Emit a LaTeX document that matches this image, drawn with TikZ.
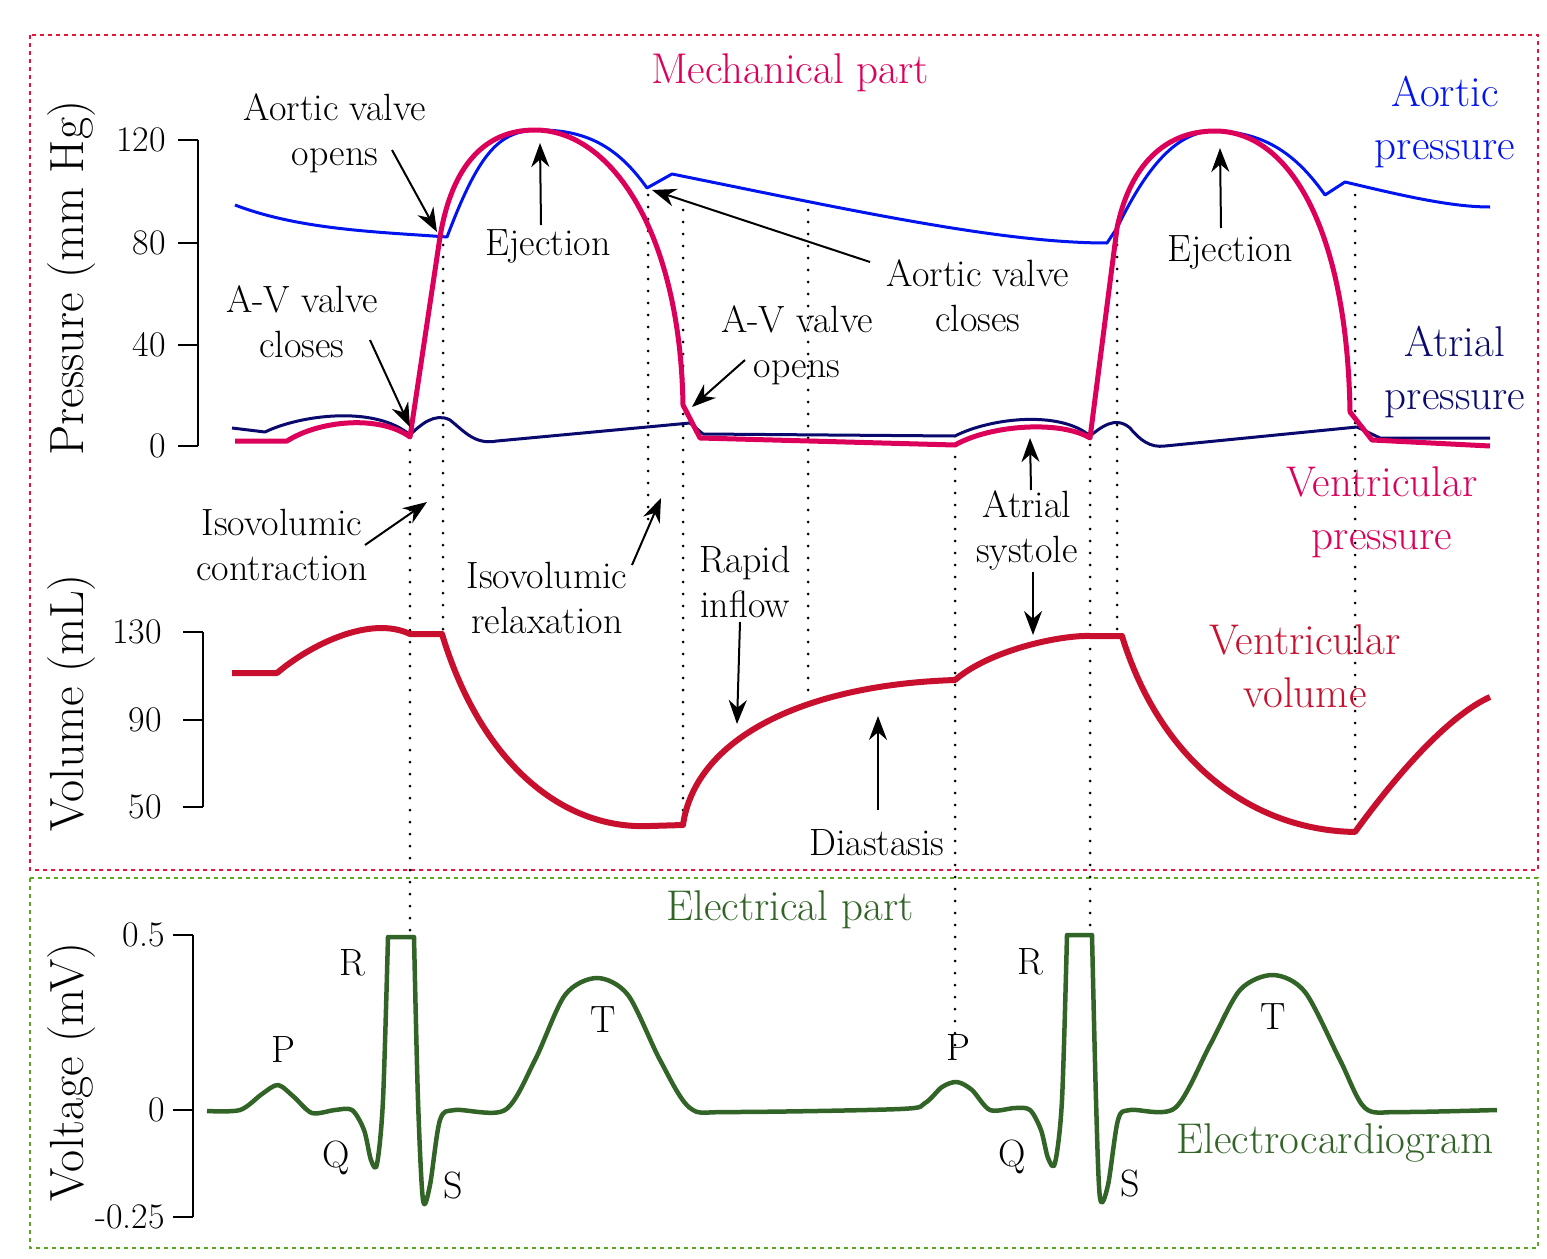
\documentclass[tikz,border=0pt]{standalone}
\usetikzlibrary{arrows.meta}
\definecolor{aorb}{RGB}{0,20,240}
\definecolor{atrb}{RGB}{10,10,110}
\definecolor{vmag}{RGB}{220,0,90}
\definecolor{vcrim}{RGB}{200,16,46}
\definecolor{ecg}{RGB}{50,100,40}
\definecolor{boxr}{RGB}{230,20,60}
\definecolor{boxg}{RGB}{90,170,30}
\begin{document}
\begin{tikzpicture}[x=1pt,y=-1pt,
  lbl/.style={font=\fontsize{38}{45}\selectfont, align=center, inner sep=0},
  ttl/.style={font=\fontsize{43}{53}\selectfont, align=center, inner sep=0},
  num/.style={font=\fontsize{36}{40}\selectfont, anchor=east, inner sep=0},
  axt/.style={font=\fontsize{48}{52}\selectfont, rotate=90, inner sep=0},
  arr/.style={-{Stealth[length=24pt,width=18pt]}, line width=2pt},
  vdot/.style={line width=3pt, line cap=round, dash pattern=on 0pt off 12pt},
  ax/.style={line width=2pt}]
\useasboundingbox (0,0) rectangle (1547,1258);
\fill[white] (0,0) rectangle (1547,1258);
% boxes
\draw[boxr, line width=2pt, dash pattern=on 4pt off 4pt] (30,35) rectangle (1538,870);
\draw[boxg, line width=2pt, dash pattern=on 4pt off 4pt] (30,878) rectangle (1538,1248);
% dotted verticals
\draw[vdot] (410,450) -- (410,930);
\draw[vdot] (443,245) -- (443,635);
\draw[vdot] (648,195) -- (648,520);
\draw[vdot] (683,210) -- (683,820);
\draw[vdot] (808,210) -- (808,690);
\draw[vdot] (955,445) -- (955,1050);
\draw[vdot] (1090,445) -- (1090,930);
\draw[vdot] (1117,245) -- (1117,640);
\draw[vdot] (1355,195) -- (1355,830);
% axes
\draw[ax] (198,140) -- (198,446);
\foreach \y/\t in {140/120,243/80,345/40,446/0}{\draw[ax] (178,\y) -- (198,\y); \node[num] at (166,\y) {\t};}
\draw[ax] (203,632) -- (203,807);
\foreach \y/\t in {632/130,720/90,807/50}{\draw[ax] (183,\y) -- (203,\y); \node[num] at (162,\y) {\t};}
\draw[ax] (193,935) -- (193,1217);
\foreach \y/\t in {935/0.5,1110/0,1217/-0.25}{\draw[ax] (173,\y) -- (193,\y); \node[num] at (165,\y) {\t};}
\node[axt] (pt) at (72,278) {Pressure (mm Hg)};
\node[axt] (vt) at (72,703) {Volume (mL)};
\node[axt] (et) at (72,1072) {Voltage (mV)};
% atrial pressure
\draw[atrb, line width=3pt, line join=round] (232,428) -- (265,432) .. controls (300,415) and (375,405) .. (410,435)
  .. controls (420,425) and (435,412) .. (450,420) .. controls (465,432) and (475,445) .. (497,441)
  -- (690,423) -- (703,434) -- (955,436) .. controls (990,418) and (1060,410) .. (1090,436)
  .. controls (1100,428) and (1115,415) .. (1130,428) .. controls (1140,440) and (1150,448) .. (1165,446)
  -- (1357,427) -- (1380,438) -- (1490,438);
% aortic pressure
\draw[aorb, line width=3pt, line join=round] (235,205) .. controls (300,230) and (380,232) .. (447,237)
  .. controls (480,150) and (500,130) .. (540,130) .. controls (590,130) and (620,150) .. (647,188)
  -- (672,174) .. controls (850,210) and (1000,243) .. (1107,243) -- (1117,228)
  .. controls (1150,160) and (1180,131) .. (1215,131) .. controls (1270,132) and (1300,160) .. (1325,195)
  -- (1345,182) .. controls (1400,195) and (1450,207) .. (1490,207);
% ventricular pressure
\draw[vmag, line width=5pt, line join=round] (235,441) -- (287,441) .. controls (320,420) and (380,415) .. (410,437)
  -- (440,237) .. controls (452,165) and (485,130) .. (535,130) .. controls (610,130) and (680,230) .. (683,405)
  -- (700,438) -- (955,445) .. controls (990,425) and (1060,420) .. (1090,438)
  -- (1117,228) .. controls (1130,165) and (1165,131) .. (1215,131) .. controls (1290,131) and (1347,230) .. (1350,412)
  -- (1372,440) -- (1490,446);
% ventricular volume
\draw[vcrim, line width=6pt, line join=round] (232,673) -- (277,673) .. controls (310,645) and (370,615) .. (410,634)
  -- (442,634) .. controls (480,760) and (560,830) .. (650,826) -- (683,825)
  .. controls (695,740) and (800,685) .. (955,680) .. controls (990,650) and (1060,635) .. (1090,636)
  -- (1122,636) .. controls (1160,760) and (1250,830) .. (1355,832) .. controls (1400,770) and (1450,715) .. (1490,697);
% ECG
\begin{scope}[ecg, line width=4.5pt, line join=round]
\draw plot[smooth, tension=0.5] coordinates {(207,1111)(240,1110)(262,1094)(278,1085)(294,1097)(312,1113)(335,1110)(352,1110)(364,1130)(371,1160)(377,1164)(383,1100)(388,937)}
  -- (414,937) -- plot[smooth, tension=0.5] coordinates {(414,937)(418,1100)(423,1200)(430,1185)(440,1120)(455,1110)(505,1110)(535,1060)(565,995)(597,978)(628,995)(660,1060)(690,1108)(730,1112)(900,1109)(925,1103)(942,1087)(957,1082)(972,1090)(990,1110)(1015,1108)(1030,1110)(1041,1130)(1048,1158)(1055,1163)(1062,1100)(1067,935)}
  -- (1092,935) -- plot[smooth, tension=0.5] coordinates {(1092,935)(1096,1100)(1100,1198)(1108,1185)(1118,1120)(1130,1110)(1175,1108)(1210,1045)(1240,990)(1273,975)(1305,992)(1340,1060)(1365,1108)(1400,1112)(1497,1110)};
\end{scope}
% titles
\node[ttl, text=vmag] (mech) at (790,73) {Mechanical part};
\node[ttl, text=aorb] (aop) at (1445,122) {Aortic\\pressure};
\node[ttl, text=atrb] (atp) at (1455,372) {Atrial\\pressure};
\node[ttl, text=vmag] (vpp) at (1382,512) {Ventricular\\pressure};
\node[ttl, text=vcrim] (vvl) at (1305,666) {Ventricular\\volume};
\node[ttl, text=ecg] (elp) at (790,910) {Electrical part};
\node[ttl, text=ecg] (ecgl) at (1335,1143) {Electrocardiogram};
% labels and arrows
\node[lbl] (avo) at (335,133) {Aortic valve\\opens};
\coordinate (avoT) at (437,232); \draw[arr] (392,150) -- (avoT);
\node[lbl] (ej1) at (548,246) {Ejection};
\coordinate (ej1T) at (540,143); \draw[arr] (541,225) -- (ej1T);
\node[lbl] (avc) at (978,296) {Aortic valve\\closes};
\coordinate (avcT) at (652,190); \draw[arr] (870,262) -- (avcT);
\node[lbl] (avvc) at (302,322) {A-V valve\\closes};
\coordinate (avvcT) at (410,427); \draw[arr] (370,340) -- (avvcT);
\node[lbl] (avvo) at (797,345) {A-V valve\\opens};
\coordinate (avvoT) at (692,407); \draw[arr] (745,360) -- (avvoT);
\node[lbl] (ivc) at (282,545) {Isovolumic\\contraction};
\coordinate (ivcT) at (427,502); \draw[arr] (365,545) -- (ivcT);
\node[lbl] (ivr) at (547,598) {Isovolumic\\relaxation};
\coordinate (ivrT) at (661,498); \draw[arr] (632,565) -- (ivrT);
\node[lbl] (rif) at (745,582) {Rapid\\inflow};
\coordinate (rifT) at (737,724); \draw[arr] (740,622) -- (rifT);
\node[lbl] (ats) at (1027,530) {Atrial\\systole};
\coordinate (atsT1) at (1030,438); \draw[arr] (1031,490) -- (atsT1);
\coordinate (atsT2) at (1033,635); \draw[arr] (1033,572) -- (atsT2);
\node[lbl] (dia) at (877,843) {Diastasis};
\coordinate (diaT) at (878,716); \draw[arr] (878,810) -- (diaT);
\node[lbl] (ej2) at (1230,252) {Ejection};
\coordinate (ej2T) at (1220,148); \draw[arr] (1221,228) -- (ej2T);
% ECG letters
\foreach \x/\y/\t/\n in {283/1050/P/p1,352/963/R/r1,336/1158/Q/q1,453/1186/S/s1,603/1020/T/t1,958/1048/P/p2,1030/962/R/r2,1012/1157/Q/q2,1130/1184/S/s2,1273/1017/T/t2}
  \node[lbl] (\n) at (\x,\y) {\t};
\end{tikzpicture}
\end{document}
